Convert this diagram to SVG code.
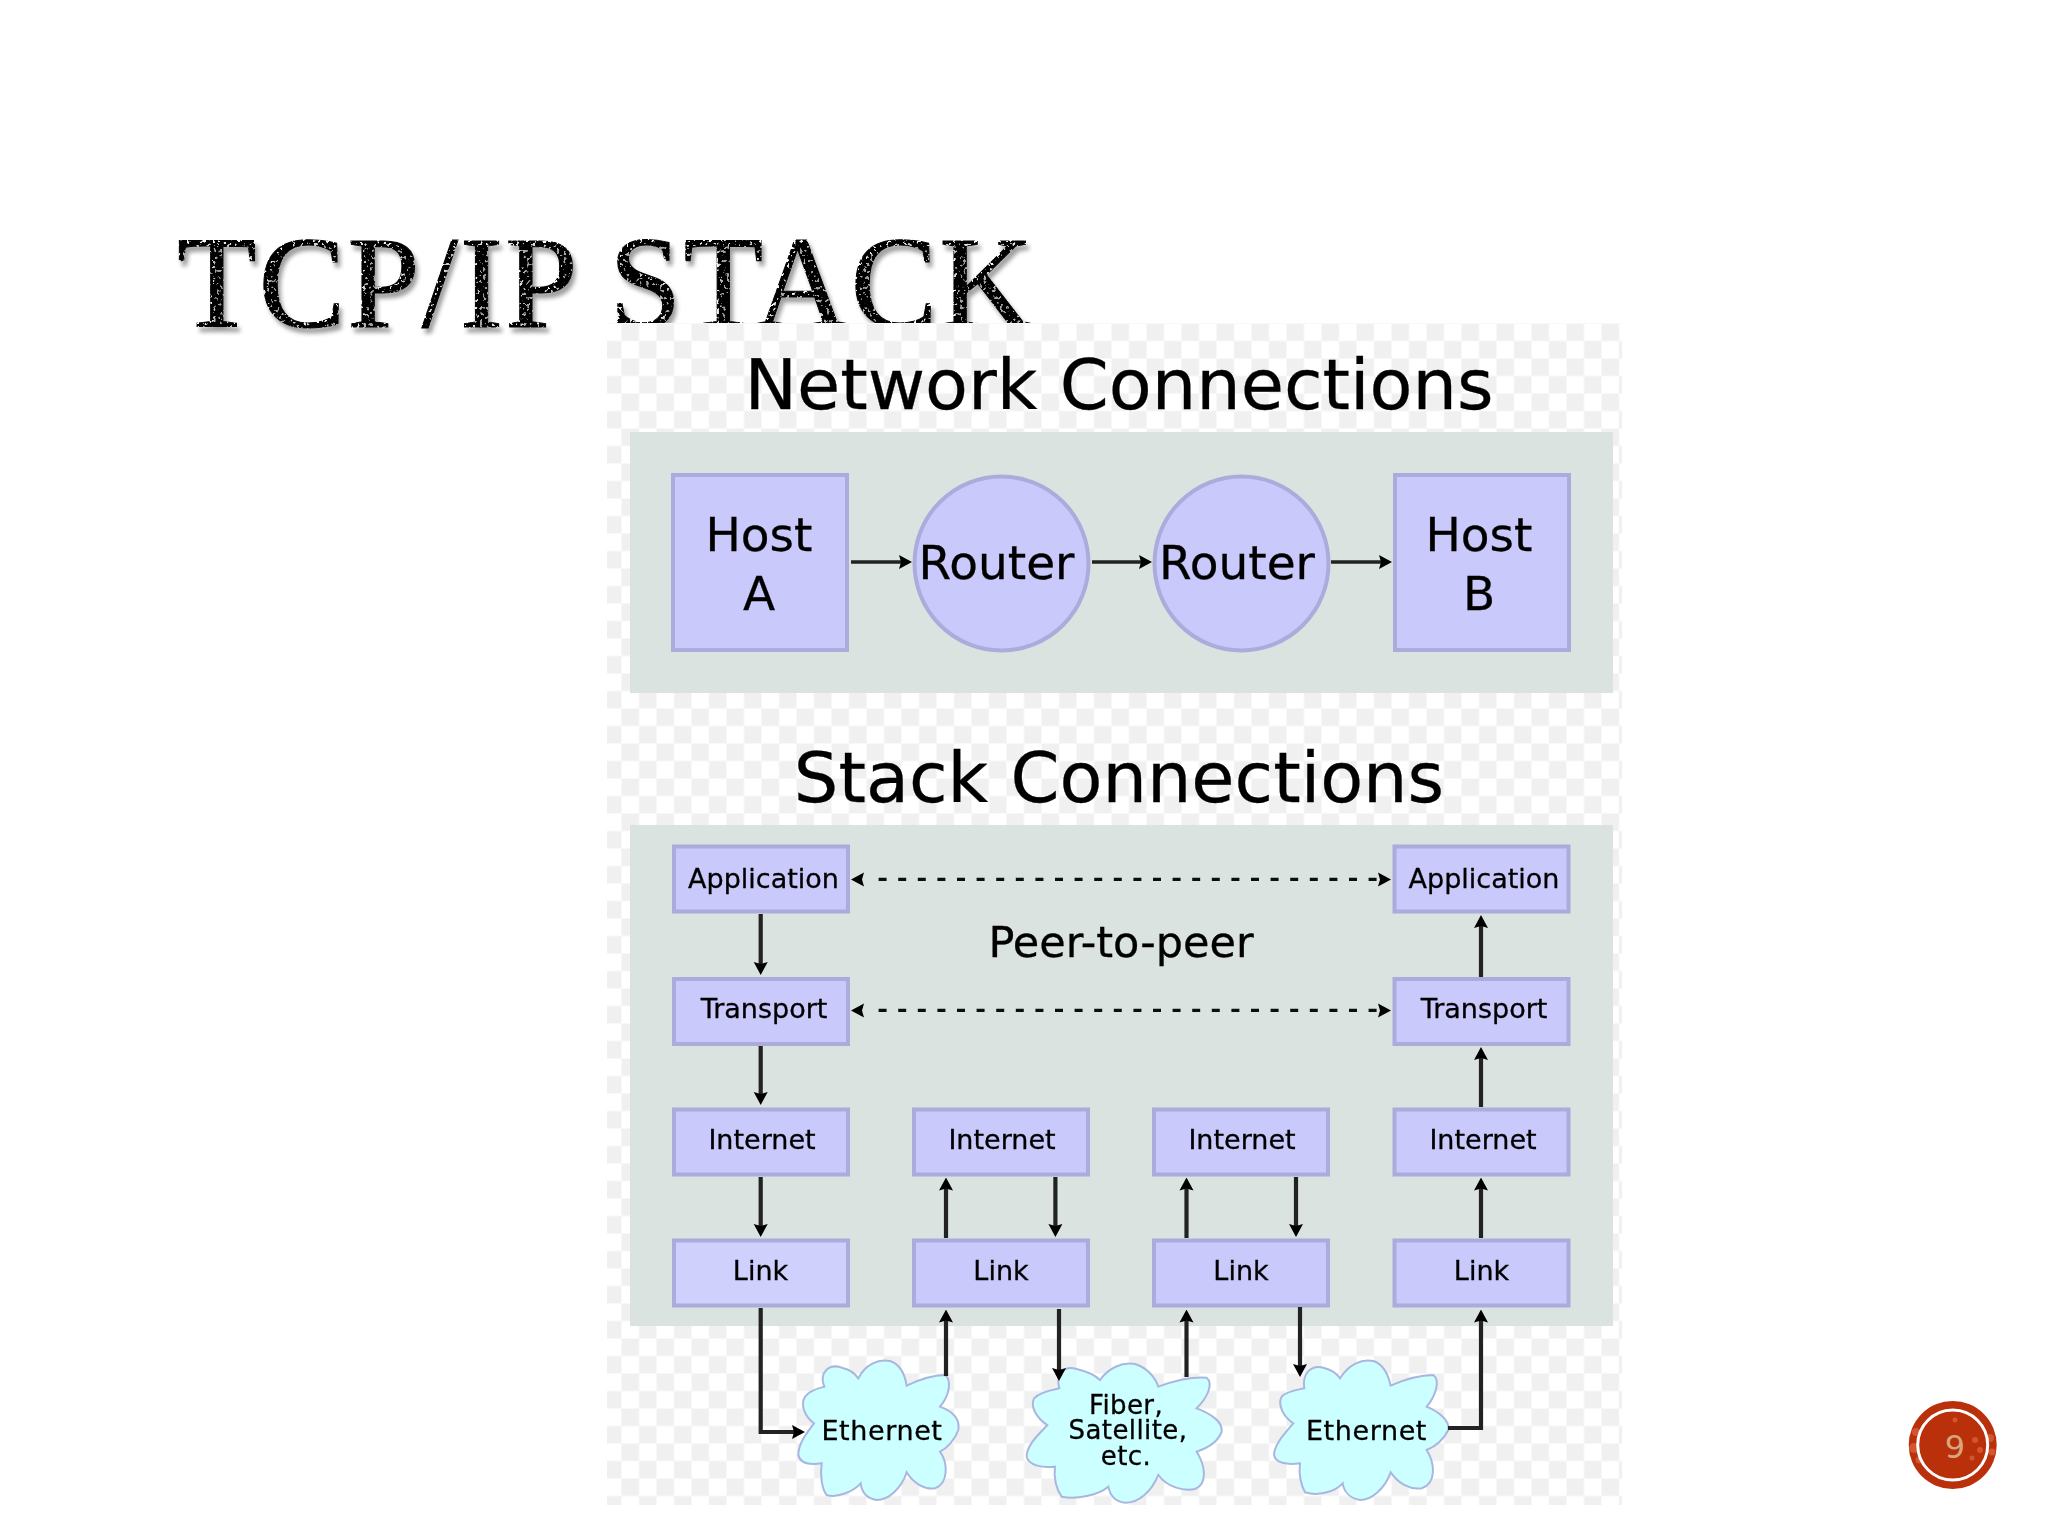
<svg xmlns="http://www.w3.org/2000/svg" width="2048" height="1536" viewBox="0 0 2048 1536">
<style>
.d{font-family:"DejaVu Sans",sans-serif;fill:#000;stroke:#000;stroke-width:.3;text-anchor:middle}
.h{font-size:70.2px}.m{font-size:47px}.s{font-size:27px}.e{font-size:27px;letter-spacing:.6px}.c{font-size:26px;letter-spacing:.4px}
.box{fill:#c9c9fb;stroke:#ababdc;stroke-width:4}
.cloud{fill:#ccffff;stroke:#a9b7e0;stroke-width:6}
.panel{fill:#dbe3e0}
.con{fill:none;stroke:#222;stroke-width:4.2;marker-end:url(#arr)}
.net{stroke-width:3.6}
.dash{fill:none;stroke:#111;stroke-width:3.4;stroke-dasharray:8 11.6;marker-start:url(#arr);marker-end:url(#arr)}
</style>
<defs>
<marker id="arr" viewBox="0 0 13 15" refX="8" refY="7.5" markerWidth="13" markerHeight="15" markerUnits="userSpaceOnUse" orient="auto-start-reverse"><path d="M0 0.5L13 7.5L0 14.5L2 7.5Z" fill="#000"/></marker>
<pattern id="chk" x="621.5" y="323.5" width="35" height="35" patternUnits="userSpaceOnUse"><rect width="35" height="35" fill="#fff"/><rect width="17.5" height="17.5" fill="#f0f0f0"/><rect x="17.5" y="17.5" width="17.5" height="17.5" fill="#f0f0f0"/></pattern>
<filter id="worn" x="-3%" y="-10%" width="106%" height="125%" color-interpolation-filters="sRGB">
<feTurbulence type="fractalNoise" baseFrequency="0.3" numOctaves="2" seed="4" result="n"/>
<feColorMatrix in="n" type="matrix" values="0 0 0 0 0 0 0 0 0 0 0 0 0 0 0 14 0 0 0 -4.6" result="mask"/>
<feComposite in="SourceGraphic" in2="mask" operator="in" result="t"/>
<feGaussianBlur in="SourceAlpha" stdDeviation="2" result="b"/>
<feOffset in="b" dx="3" dy="5" result="o"/>
<feFlood flood-color="#000" flood-opacity=".38"/>
<feComposite in2="o" operator="in" result="sh"/>
<feMerge><feMergeNode in="sh"/><feMergeNode in="t"/></feMerge>
</filter>
<filter id="soft" x="-2%" y="-2%" width="104%" height="104%"><feGaussianBlur stdDeviation=".45"/></filter>
</defs>
<rect width="2048" height="1536" fill="#fff"/>
<text id="title" x="177" y="327" font-family="'Liberation Serif',serif" font-size="130.5" letter-spacing="1.8" fill="#000" stroke="#000" stroke-width="1" filter="url(#worn)">TCP/IP STACK</text>
<g id="figure" filter="url(#soft)">
<rect x="607" y="323" width="1015" height="1182" fill="url(#chk)"/>
<rect class="panel" x="630" y="432" width="983" height="261"/>
<rect class="panel" x="630" y="825" width="983" height="501"/>
<text class="d h" x="1119" y="408.5">Network Connections</text>
<text class="d h" x="1119" y="802">Stack Connections</text>
<text class="d" x="1121" y="957" style="font-size:43px">Peer-to-peer</text>
<g id="hostA"><rect class="box" x="673" y="475" width="174" height="175"/><text class="d m" x="759" y="551">Host</text><text class="d m" x="759" y="610">A</text></g>
<g id="router1"><circle class="box" cx="1001.5" cy="563.5" r="87"/><text class="d m" x="996.5" y="578.5">Router</text></g>
<g id="router2"><circle class="box" cx="1241.5" cy="563.5" r="87"/><text class="d m" x="1237" y="578.5">Router</text></g>
<g id="hostB"><rect class="box" x="1395" y="475" width="174" height="175"/><text class="d m" x="1479" y="551">Host</text><text class="d m" x="1479" y="610">B</text></g>
<g id="app1"><rect class="box" x="674" y="846.5" width="174" height="65"/><text class="d s" x="763.5" y="887.5">Application</text></g>
<g id="trans1"><rect class="box" x="674" y="979" width="174" height="65"/><text class="d s" x="764" y="1018">Transport</text></g>
<g id="inet1"><rect class="box" x="674" y="1109.5" width="174" height="65"/><text class="d s" x="762" y="1149">Internet</text></g>
<g id="link1"><rect class="box" style="fill:#d0d0fc" x="674" y="1240.5" width="174" height="65"/><text class="d s" x="760.5" y="1280">Link</text></g>
<g id="inet2"><rect class="box" x="914" y="1109.5" width="174" height="65"/><text class="d s" x="1002" y="1149">Internet</text></g>
<g id="link2"><rect class="box" x="914" y="1240.5" width="174" height="65"/><text class="d s" x="1001" y="1280">Link</text></g>
<g id="inet3"><rect class="box" x="1154" y="1109.5" width="174" height="65"/><text class="d s" x="1242" y="1149">Internet</text></g>
<g id="link3"><rect class="box" x="1154" y="1240.5" width="174" height="65"/><text class="d s" x="1241" y="1280">Link</text></g>
<g id="app4"><rect class="box" x="1394.5" y="846.5" width="174" height="65"/><text class="d s" x="1484" y="887.5">Application</text></g>
<g id="trans4"><rect class="box" x="1394.5" y="979" width="174" height="65"/><text class="d s" x="1484" y="1018">Transport</text></g>
<g id="inet4"><rect class="box" x="1394.5" y="1109.5" width="174" height="65"/><text class="d s" x="1483" y="1149">Internet</text></g>
<g id="link4"><rect class="box" x="1394.5" y="1240.5" width="174" height="65"/><text class="d s" x="1481.5" y="1280">Link</text></g>
<g id="cloud1"><path class="cloud" transform="translate(790 1355) scale(.3333)" d="M103 95C85 50 120 25 155 38C175 42 195 55 205 70C225 30 265 10 300 18C330 28 345 60 350 92C385 75 430 60 465 60C485 75 480 120 450 155C490 170 510 195 505 225C495 255 470 280 450 290C475 325 475 385 435 400C405 405 370 385 350 352C335 400 295 435 260 435C230 430 215 410 212 385C190 410 140 430 110 420C95 400 90 360 95 325C60 330 30 325 25 300C25 265 50 235 72 205C45 185 30 150 45 125C60 105 85 100 103 95Z"/><text class="d e" x="882" y="1440">Ethernet</text></g>
<g id="cloud2"><path class="cloud" transform="translate(1020 1355) scale(.3333)" d="M118 100C105 55 135 30 170 42C195 48 225 60 240 75C265 40 305 20 345 27C380 38 405 65 415 95C455 80 510 65 560 68C580 85 565 125 530 160C570 175 610 200 605 230C595 260 560 280 530 290C555 330 565 385 525 402C490 410 440 395 415 360C395 410 355 445 315 443C285 440 270 420 265 395C235 420 170 435 125 425C110 405 100 370 105 335C65 340 25 330 20 305C20 270 55 240 82 210C50 190 30 155 42 130C60 110 95 105 118 100Z"/><text class="d c" x="1126" y="1414">Fiber,</text><text class="d c" x="1128" y="1439">Satellite,</text><text class="d c" x="1126" y="1465">etc.</text></g>
<g id="cloud3"><path class="cloud" transform="translate(1270 1355) scale(.3333)" d="M103 100C95 55 125 28 160 38C185 44 200 55 210 70C235 30 275 10 310 18C340 28 355 60 362 92C400 75 450 60 490 60C510 75 500 120 470 155C505 170 540 195 535 225C520 255 495 275 470 285C495 325 500 385 455 400C420 405 385 385 362 352C345 400 305 435 270 435C240 430 222 410 218 385C195 410 145 425 105 412C95 395 85 360 90 325C50 330 15 325 12 298C15 265 45 235 70 205C40 185 22 150 35 125C50 108 80 105 103 100Z"/><text class="d e" x="1366.5" y="1440">Ethernet</text></g>
<g id="connectors">
<path class="con net" d="M851 562H907"/><path class="con net" d="M1092 562H1147"/><path class="con net" d="M1331 562H1387"/>
<path class="con" d="M760.7 914V970"/><path class="con" d="M760.7 1046V1100"/><path class="con" d="M760.7 1177V1232"/>
<path class="con" d="M946 1238V1182.5"/><path class="con" d="M1055.4 1177V1232"/>
<path class="con" d="M1186.5 1238V1182.5"/><path class="con" d="M1296 1177V1232"/>
<path class="con" d="M1481 1238V1182.5"/><path class="con" d="M1481 1107V1052"/><path class="con" d="M1481 977V920"/>
<path class="con" d="M760.7 1308V1432H800"/><path class="con" d="M946 1376V1314.5"/><path class="con" d="M1059 1309V1376"/>
<path class="con" d="M1186.5 1377V1314.5"/><path class="con" d="M1300 1307V1372"/><path class="con" d="M1448 1428H1481V1314.5"/>
<path class="dash" d="M856 879.4h1M878.6 879.4H1386"/><path class="dash" d="M856 1010.4h1M878.6 1010.4H1386"/>
</g>
</g>
<g id="badge">
<circle cx="1952.7" cy="1445" r="44" fill="#b9300b"/>
<g fill="#e06a45" opacity=".65"><circle cx="1916" cy="1432" r="4"/><circle cx="1914" cy="1448" r="5"/><circle cx="1919" cy="1460" r="3.5"/><circle cx="1990" cy="1438" r="4"/><circle cx="1992" cy="1452" r="3.5"/><circle cx="1975" cy="1440" r="3"/><circle cx="1980" cy="1450" r="3"/><circle cx="1972" cy="1458" r="2.5"/><circle cx="1955" cy="1420" r="2.5"/></g>
<circle cx="1952.7" cy="1445" r="35" fill="none" stroke="#fff" stroke-width="3"/>
<text x="1955" y="1458" font-family="'DejaVu Sans',sans-serif" font-size="32" fill="#d6a67e" text-anchor="middle">9</text>
</g>
</svg>
